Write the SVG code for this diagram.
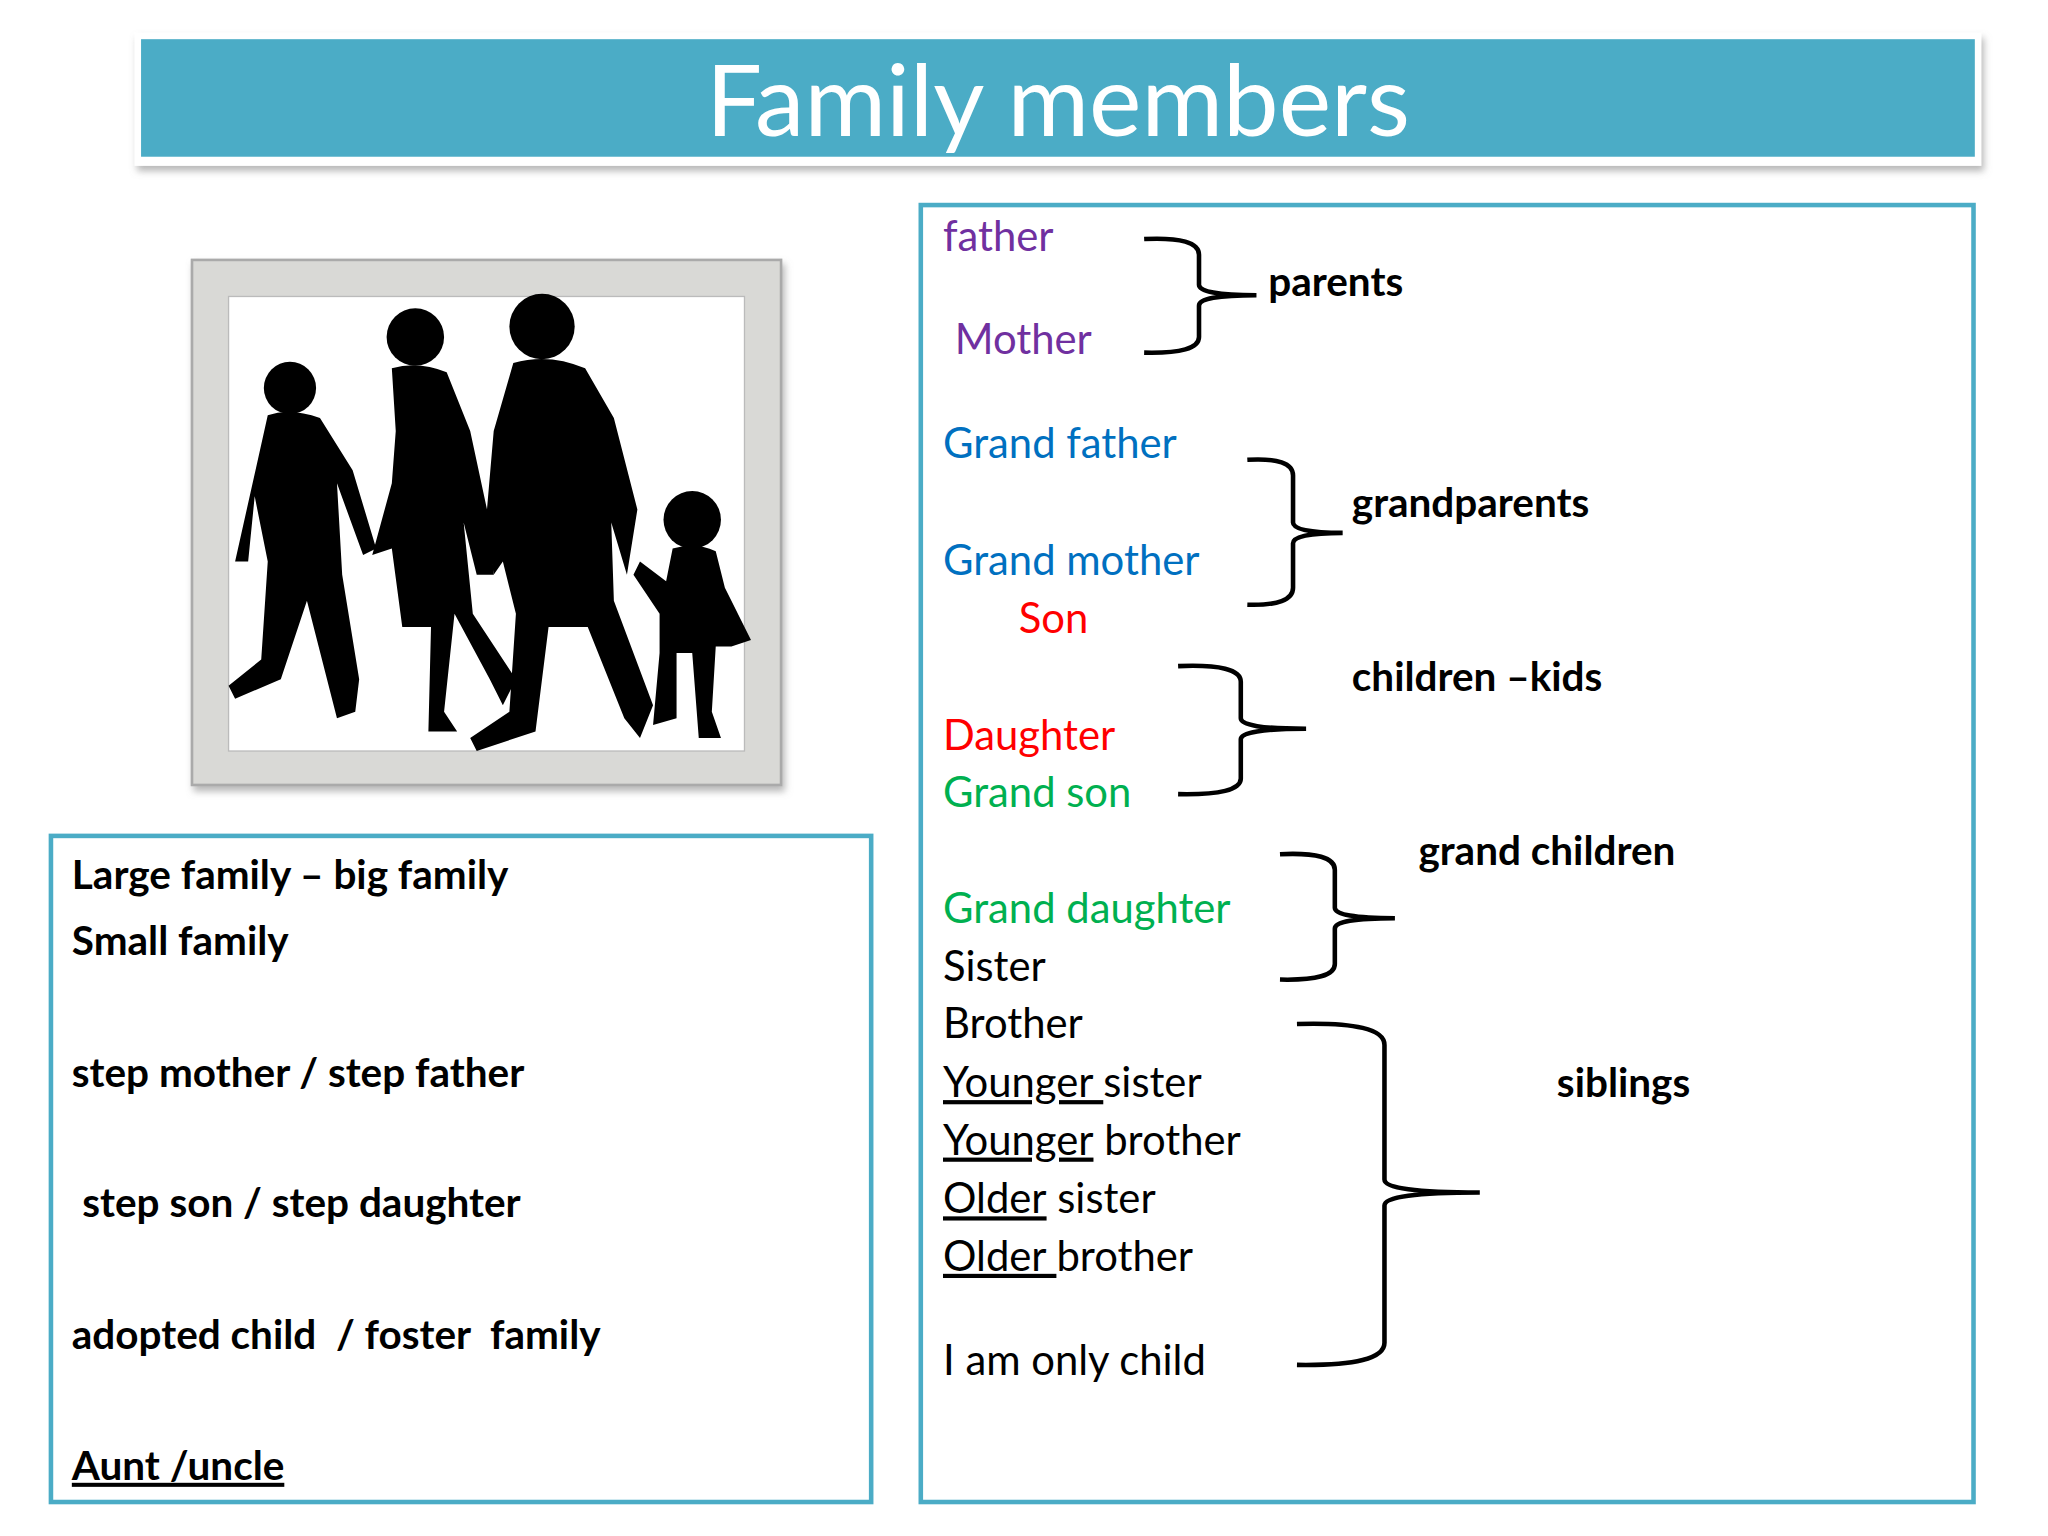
<svg xmlns="http://www.w3.org/2000/svg" width="2048" height="1536" viewBox="0 0 2048 1536">
<defs>
<style>
text{font-family:Lato,"Open Sans","Liberation Sans",sans-serif;font-size:32px}
.b{font-weight:bold;font-size:31px;fill:#000}
.pu{fill:#7030A0}.bl{fill:#0070C0}.rd{fill:#FF0000}.gr{fill:#00B050}.k{fill:#000}
.brace{fill:none;stroke:#000;stroke-width:3.5}
.box{fill:none;stroke:#4BACC6;stroke-width:3.5}
.u{text-decoration:underline}
</style>
<filter id="sh" x="-5%" y="-5%" width="110%" height="120%"><feDropShadow dx="2" dy="4" stdDeviation="3" flood-color="#888" flood-opacity="0.6"/></filter>
</defs>
<rect width="2048" height="1536" fill="#fff"/>
<g transform="scale(1.3061)">
<g id="title">
<rect x="103" y="25" width="1414" height="102" fill="#fff" filter="url(#sh)"/>
<rect x="108" y="30" width="1404" height="90" fill="#4BACC6"/>
<text x="810" y="104" text-anchor="middle" style="font-size:76px;fill:#fff">Family members</text>
</g>
<g id="picture">
<rect x="147" y="199" width="451" height="402" fill="#d9d9d6" stroke="#aaa" stroke-width="2" filter="url(#sh)"/>
<rect x="175" y="227" width="395" height="348" fill="#fff" stroke="#bbb"/>
<g fill="#000">
<circle cx="222" cy="297" r="20"/>
<path d="M205 318 Q222 312 245 320 L270 360 L288 420 L278 425 L258 370 L262 440 L275 520 L272 545 L258 550 L235 460 L215 520 L180 535 L175 525 L200 505 L205 430 L195 380 L190 430 L180 430 Z"/>
<circle cx="318" cy="258" r="22"/>
<path d="M300 282 Q320 276 342 285 L360 330 L375 400 L378 440 L365 440 L355 400 L362 470 L395 520 L385 540 L375 520 L348 470 L340 545 L350 560 L328 560 L330 480 L308 480 L300 420 L285 425 L300 370 L303 330 Z"/>
<circle cx="415" cy="250" r="25"/>
<path d="M393 278 Q420 270 448 282 L470 320 L488 390 L480 440 L468 400 L470 460 L500 540 L490 565 L478 550 L450 480 L420 480 L410 560 L365 575 L360 565 L390 545 L395 470 L385 430 L378 440 L372 400 L378 330 Z"/>
<circle cx="530" cy="398" r="22"/>
<path d="M515 420 Q532 415 548 422 L555 450 L575 490 L560 495 L548 495 L545 545 L552 565 L535 565 L530 500 L518 500 L518 550 L500 555 L505 500 L505 470 L485 440 L490 430 L510 445 Z"/>
</g>
</g>
<g id="leftbox">
<rect class="box" x="39" y="640" width="628" height="510"/>
<text class="b" x="55" y="681">Large family – big family</text>
<text class="b" x="55" y="731">Small family</text>
<text class="b" x="55" y="832">step mother / step father</text>
<text class="b" x="63" y="932">step son / step daughter</text>
<text class="b" x="55" y="1033" xml:space="preserve">adopted child  / foster  family</text>
<text class="b u" x="55" y="1133">Aunt /uncle</text>
</g>
<g id="rightbox">
<rect class="box" x="705" y="157" width="806" height="993"/>
<text class="pu" x="722" y="192">father</text>
<text class="pu" x="731" y="271">Mother</text>
<text class="bl" x="722" y="351">Grand father</text>
<text class="bl" x="722" y="440">Grand mother</text>
<text class="rd" x="780" y="485">Son</text>
<text class="rd" x="722" y="574">Daughter</text>
<text class="gr" x="722" y="618">Grand son</text>
<text class="gr" x="722" y="707">Grand daughter</text>
<text class="k" x="722" y="751">Sister</text>
<text class="k" x="722" y="795">Brother</text>
<text class="k" x="722" y="840" xml:space="preserve"><tspan class="u">Younger </tspan>sister</text>
<text class="k" x="722" y="884" xml:space="preserve"><tspan class="u">Younger</tspan> brother</text>
<text class="k" x="722" y="929" xml:space="preserve"><tspan class="u">Older</tspan> sister</text>
<text class="k" x="722" y="973" xml:space="preserve"><tspan class="u">Older </tspan>brother</text>
<text class="k" x="722" y="1053">I am only child</text>
<text class="b" x="971" y="227">parents</text>
<text class="b" x="1035" y="396">grandparents</text>
<text class="b" x="1035" y="529">children –kids</text>
<text class="b" x="1086" y="662">grand children</text>
<text class="b" x="1192" y="840">siblings</text>
</g>
<g id="connectors">
<path class="brace" d="M876 183 Q918 181 918 195 L918 218 Q918 226 962 226 Q918 226 918 234 L918 258 Q918 271 876 270"/>
<path class="brace" d="M955 352 Q990 350 990 364 L990 400 Q990 408 1028 408 Q990 408 990 416 L990 450 Q990 464 955 463"/>
<path class="brace" d="M902 510 Q950 508 950 522 L950 550 Q950 558 1000 558 Q950 558 950 566 L950 596 Q950 609 902 608"/>
<path class="brace" d="M980 654 Q1022 652 1022 666 L1022 695 Q1022 703 1068 703 Q1022 703 1022 711 L1022 738 Q1022 751 980 750"/>
<path class="brace" d="M993 784 Q1060 782 1060 800 L1060 903 Q1060 913 1133 913 Q1060 913 1060 923 L1060 1028 Q1060 1046 993 1045"/>
</g>
</g>
</svg>
